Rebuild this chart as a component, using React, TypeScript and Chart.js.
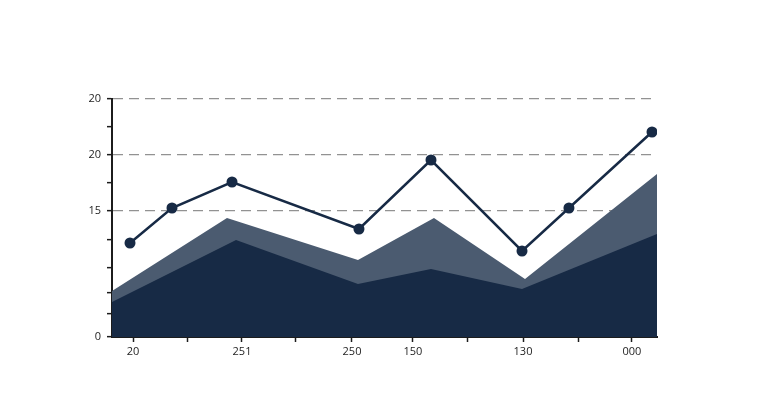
import React, { useEffect, useRef } from "react";
import { Chart, registerables } from "chart.js";

Chart.register(...registerables);

// x positions are in "tick index" units along the axis
const tickPositions = [0, 0.974, 1.966, 2.94, 3.95, 5.05, 6.025, 7.035, 8.027, 9.0];
const tickLabels = ["20", "", "251", "", "250", "150", "", "130", "", "000"];

const yTickValues = [0, 2.3, 4.4, 6.9, 9.7, 12.6, 15.4, 18.2, 21.0, 23.8];
const yTickLabels = ["0", "", "", "", "", "15", "", "20", "", "20"];
const yGridValues = [12.6, 18.2, 23.8];

const lineX = [-0.054, 0.703, 1.786, 4.076, 5.375, 7.017, 7.864, 9.362];
const lineY = [9.4, 12.9, 15.5, 10.8, 17.7, 8.6, 12.9, 20.5];

const lightX = [-0.379, 1.695, 4.058, 5.429, 7.071, 9.452];
const lightY = [4.6, 11.9, 7.7, 11.9, 5.8, 16.3];

const darkX = [-0.379, 1.858, 4.058, 5.375, 7.017, 9.452];
const darkY = [3.5, 9.7, 5.3, 6.8, 4.8, 10.3];

const NAVY = "#172a45";
const SLATE = "#4b5b70";
const AXIS = "#1c1c1c";

const zip = (xs: number[], ys: number[]) => xs.map((x, i) => ({ x, y: ys[i] }));

export default function App() {
  const ref = useRef<HTMLCanvasElement | null>(null);

  useEffect(() => {
    if (!ref.current) return;
    const chart = new Chart(ref.current, {
      type: "line",
      data: {
        datasets: [
          {
            label: "line",
            data: zip(lineX, lineY),
            borderColor: NAVY,
            backgroundColor: NAVY,
            borderWidth: 2.5,
            pointRadius: 5.5,
            pointBorderWidth: 0,
            pointBackgroundColor: NAVY,
            fill: false,
            tension: 0,
            order: 0,
          },
          {
            label: "dark",
            data: zip(darkX, darkY),
            borderWidth: 0,
            pointRadius: 0,
            backgroundColor: NAVY,
            fill: "origin",
            tension: 0,
            order: 1,
          },
          {
            label: "light",
            data: zip(lightX, lightY),
            borderWidth: 0,
            pointRadius: 0,
            backgroundColor: SLATE,
            fill: "origin",
            tension: 0,
            order: 2,
          },
        ],
      },
      options: {
        animation: false,
        responsive: false,
        devicePixelRatio: 1,
        layout: { padding: { left: 0, top: 99, right: 111, bottom: 0 } },
        plugins: {
          legend: { display: false },
          title: { display: false },
          tooltip: { enabled: false },
        },
        scales: {
          x: {
            type: "linear",
            min: -0.379,
            max: 9.452,
            afterFit: (s: any) => {
              s.height = 82;
            },
            afterBuildTicks: (s: any) => {
              s.ticks = tickPositions.map((v) => ({ value: v }));
            },
            ticks: {
              autoSkip: false,
              maxRotation: 0,
              padding: 3,
              color: "#1e1e1e",
              font: { family: "'Open Sans', sans-serif", size: 11 },
              callback: (v: any) => {
                const i = tickPositions.indexOf(Number(v));
                return i >= 0 ? tickLabels[i] : "";
              },
            },
            grid: {
              drawOnChartArea: false,
              drawTicks: true,
              tickLength: 5,
              tickColor: AXIS,
              tickWidth: 1.5,
            },
            border: { display: true, color: AXIS, width: 2 },
          },
          y: {
            type: "linear",
            min: 0,
            max: 23.8,
            afterFit: (s: any) => {
              s.width = 112;
            },
            afterBuildTicks: (s: any) => {
              s.ticks = yTickValues.map((v) => ({ value: v }));
            },
            ticks: {
              autoSkip: false,
              padding: 6,
              color: "#1e1e1e",
              font: { family: "'Open Sans', sans-serif", size: 11 },
              callback: (v: any) => {
                const i = yTickValues.indexOf(Number(v));
                return i >= 0 ? yTickLabels[i] : "";
              },
            },
            grid: {
              drawOnChartArea: true,
              drawTicks: true,
              tickLength: 5,
              tickColor: AXIS,
              tickWidth: 1.5,
              lineWidth: 1.3,
              color: (ctx: any) =>
                ctx.tick && yGridValues.indexOf(ctx.tick.value) >= 0 ? "#929292" : "rgba(0,0,0,0)",
            },
            border: { display: true, color: AXIS, width: 2, dash: [10, 6] },
          },
        },
      },
    });
    return () => chart.destroy();
  }, []);

  return (
    <div style={{ position: "fixed", left: 0, top: 0, width: 768, height: 419, background: "#fff" }}>
      <canvas ref={ref} width={768} height={419} style={{ width: 768, height: 419, display: "block" }} />
    </div>
  );
}
